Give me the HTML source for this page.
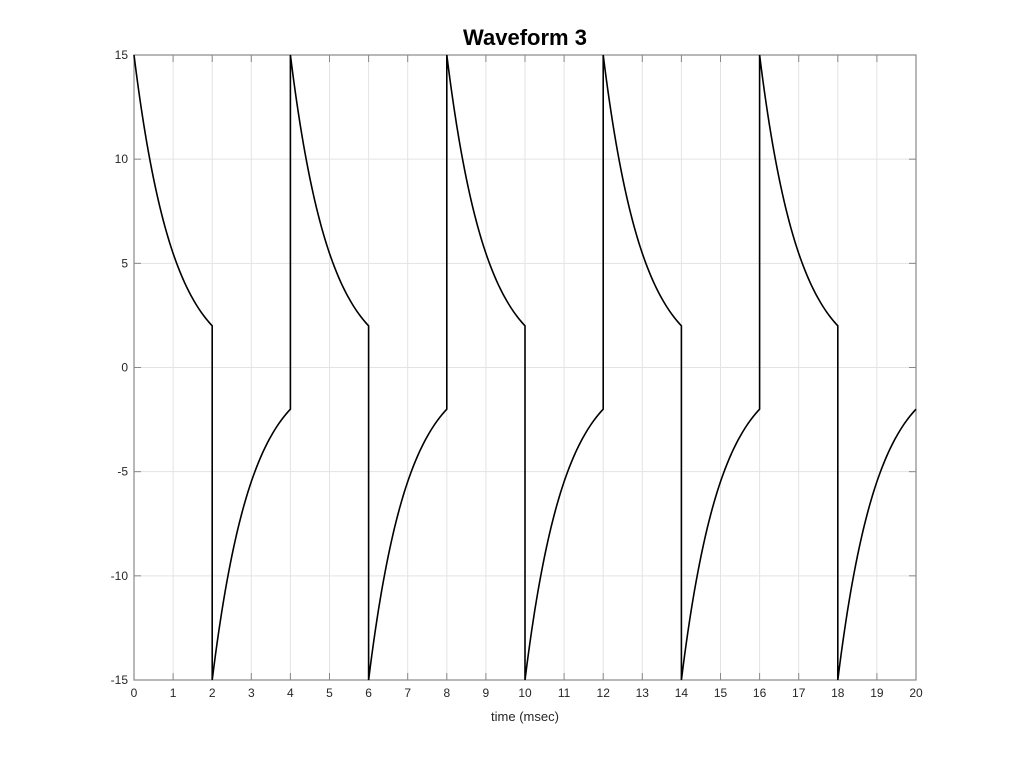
<!DOCTYPE html>
<html><head><meta charset="utf-8"><style>
body{margin:0;background:#fff;}
svg text{font-family:"Liberation Sans",sans-serif;}
</style></head><body>
<svg id="chart" width="1014" height="765">
<text x="525" y="45" text-anchor="middle" font-size="22" font-weight="bold" fill="#000">Waveform 3</text>
<g id="grid"></g><g id="ticks"></g><g id="series"></g>
<text x="525" y="721" text-anchor="middle" font-size="13" fill="#262626">time (msec)</text>
</svg>
<script>
const xTicks=[0,1,2,3,4,5,6,7,8,9,10,11,12,13,14,15,16,17,18,19,20];
const yTicks=[-15,-10,-5,0,5,10,15];
// one half-cycle decay shape (t offset in msec, magnitude)
const shapeT=[0,0.25,0.5,0.75,1,1.25,1.5,1.75,2];
const shapeV=[15,11.66,9.07,7.05,5.48,4.26,3.31,2.57,2.0];
// half-cycle start times and sign (+1 decaying from +15, -1 rising from -15)
const segStart=[0,2,4,6,8,10,12,14,16,18];
const segSign=[1,-1,1,-1,1,-1,1,-1,1,-1];
const X0=134,X1=916,Y0=55,Y1=680;
const xs=v=>X0+(v-0)/(20-0)*(X1-X0);
const ys=v=>Y1-(v+15)/30*(Y1-Y0);
const NS="http://www.w3.org/2000/svg";
function mk(t,a,p){const e=document.createElementNS(NS,t);for(const k in a)e.setAttribute(k,a[k]);p.appendChild(e);return e;}
const grid=document.getElementById('grid'),ticks=document.getElementById('ticks'),ser=document.getElementById('series');
xTicks.forEach(v=>{const x=xs(v);
 const g=mk('line',{x1:x,x2:x,y1:Y0,y2:Y1,stroke:'#e3e3e3','stroke-width':1},grid);
 
 
 mk('line',{x1:x,x2:x,y1:Y1,y2:Y1-7,stroke:'#888'},ticks);
 mk('line',{x1:x,x2:x,y1:Y0,y2:Y0+7,stroke:'#888'},ticks);
 const t=mk('text',{x:x,y:Y1+17,'text-anchor':'middle','font-size':12,fill:'#262626'},ticks);t.textContent=v;
 
 
});
yTicks.forEach(v=>{const y=ys(v);
 const g=mk('line',{x1:X0,x2:X1,y1:y,y2:y,stroke:'#e3e3e3','stroke-width':1},grid);
 
 
 mk('line',{x1:X0,x2:X0+7,y1:y,y2:y,stroke:'#888'},ticks);
 mk('line',{x1:X1,x2:X1-7,y1:y,y2:y,stroke:'#888'},ticks);
 const t=mk('text',{x:X0-6,y:y+4,'text-anchor':'end','font-size':12,fill:'#262626'},ticks);t.textContent=v;
 
 
});
const box=mk('rect',{x:X0,y:Y0,width:X1-X0,height:Y1-Y0,fill:'none',stroke:'#888','stroke-width':1.2},ticks);


// build path using cubic interpolation-free fine sampling between read points (log-linear)
let d='';
segStart.forEach((s,i)=>{
 for(let k=0;k<shapeT.length;k++){
  const v=segSign[i]*shapeV[k];
  if(k<shapeT.length-1){
   // log-linear between read points for smoothness
   const n=6;
   for(let j=0;j<n;j++){const f=j/n;const t=s+shapeT[k]+f*(shapeT[k+1]-shapeT[k]);
    const m=segSign[i]*shapeV[k]*Math.pow(shapeV[k+1]/shapeV[k],f);
    d+=(d?'L':'M')+xs(t).toFixed(2)+','+ys(m).toFixed(2);}
  } else d+='L'+xs(s+shapeT[k]).toFixed(2)+','+ys(v).toFixed(2);
 }
});
const p=mk('path',{d:d,fill:'none',stroke:'#000','stroke-width':1.6},ser);


</script>
</body></html>
